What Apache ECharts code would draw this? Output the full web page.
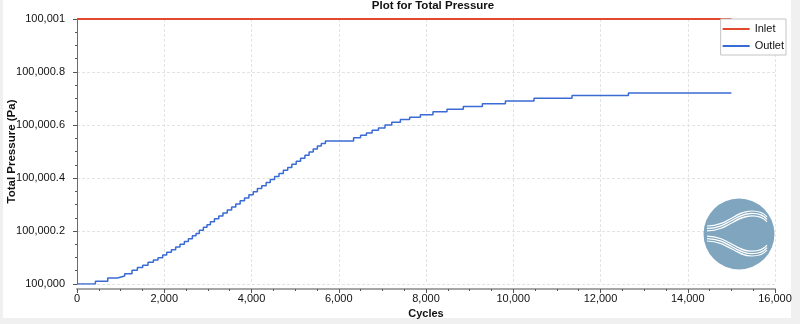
<!DOCTYPE html>
<html>
<head>
<meta charset="utf-8">
<script src="https://cdn.jsdelivr.net/npm/echarts@6/dist/echarts.min.js"></script>
<style>
html,body{margin:0;padding:0;background:#f0f0f0;width:800px;height:324px;overflow:hidden;}
#panel{position:absolute;left:3px;top:0;width:788px;height:318px;background:#ffffff;}
#chart{position:absolute;left:0;top:0;width:800px;height:324px;}
</style>
</head>
<body>
<div id="panel"></div>
<div id="chart"></div>
<script>
const titleText = 'Plot for Total Pressure';
const xName = 'Cycles';
const yName = 'Total Pressure (Pa)';
const seriesNames = ['Inlet', 'Outlet'];

const inletCycles = [0, 15000];
const inletPressure = [100001, 100001];

const outletCycles = [
  0, 422, 704, 926, 1093, 1261, 1384, 1506, 1628, 1751, 1857, 1964, 2056, 2164, 2262, 2361,
  2461, 2553, 2645, 2728, 2805, 2897, 2980, 3058, 3150, 3250, 3345, 3445, 3545, 3640, 3740,
  3840, 3940, 4040, 4135, 4235, 4335, 4430, 4530, 4630, 4730, 4830, 4925, 5025, 5125, 5225,
  5320, 5415, 5510, 5600, 5694, 6340, 6500, 6634, 6765, 6910, 7060, 7215, 7413, 7626, 7871,
  8160, 8481, 8855, 9292, 9820, 10476, 11347, 12639, 15000
];
const outletPressure = [
  100000.000, 100000.010, 100000.023, 100000.030, 100000.039, 100000.052, 100000.062, 100000.071,
  100000.082, 100000.091, 100000.099, 100000.109, 100000.120, 100000.129, 100000.140, 100000.150,
  100000.160, 100000.171, 100000.182, 100000.191, 100000.203, 100000.214, 100000.224, 100000.235,
  100000.246, 100000.257, 100000.268, 100000.279, 100000.291, 100000.302, 100000.314, 100000.325,
  100000.337, 100000.348, 100000.360, 100000.371, 100000.383, 100000.394, 100000.406, 100000.417,
  100000.429, 100000.440, 100000.452, 100000.463, 100000.475, 100000.486, 100000.498, 100000.509,
  100000.521, 100000.530, 100000.540, 100000.552, 100000.561, 100000.570, 100000.580, 100000.589,
  100000.600, 100000.610, 100000.621, 100000.629, 100000.639, 100000.650, 100000.659, 100000.670,
  100000.680, 100000.691, 100000.701, 100000.711, 100000.721, 100000.721
];

function fmt(v) {
  const s = (Math.round(v * 1000) / 1000).toString();
  const parts = s.split('.');
  parts[0] = parts[0].replace(/\B(?=(\d{3})+(?!\d))/g, ',');
  return parts.join('.');
}

function pairs(xs, ys) { return xs.map((x, i) => [x, ys[i]]); }

const FONT = '"Liberation Sans", Arial, sans-serif';

function curve(x1, y1, cx1, cy1, cx2, cy2, x2, y2) {
  return {
    type: 'bezierCurve',
    z: 100,
    shape: { x1: x1, y1: y1, cpx1: cx1, cpy1: cy1, cpx2: cx2, cpy2: cy2, x2: x2, y2: y2 },
    style: { fill: null, stroke: '#ffffff', lineWidth: 1.2 }
  };
}

function logoLines() {
  const els = [];
  for (let k = 0; k < 3; k++) {
    const y0 = 226 + 2.4 * k;
    const yp = y0 - 15;
    els.push(curve(707, y0, 728, y0, 735, yp, 752, yp));
    els.push(curve(752, yp, 760, yp, 764, yp + 2, 767, yp + 6));
    const b0 = 241 - 2.4 * k;
    const bp = b0 + 15;
    els.push(curve(707, b0, 728, b0, 735, bp, 752, bp));
    els.push(curve(752, bp, 760, bp, 764, bp - 2, 767, bp - 6));
  }
  return els;
}

const chart = echarts.init(document.getElementById('chart'), null, { renderer: 'canvas' });
chart.setOption({
  animation: false,
  backgroundColor: 'transparent',
  textStyle: { fontFamily: FONT },
  title: {
    text: titleText,
    left: 433,
    top: 0,
    padding: 0,
    textAlign: 'center',
    textStyle: { fontFamily: FONT, fontSize: 11.5, fontWeight: 'bold', color: '#111' }
  },
  legend: {
    orient: 'vertical',
    right: 14,
    top: 19,
    padding: [3, 2, 2, 2],
    itemGap: 3,
    itemWidth: 27,
    itemHeight: 2,
    icon: 'rect',
    borderColor: '#c4c4c4',
    borderWidth: 1,
    backgroundColor: '#ffffff',
    selectedMode: false,
    textStyle: { fontFamily: FONT, fontSize: 11, color: '#111', lineHeight: 14 },
    data: seriesNames
  },
  grid: { left: 77, right: 25, top: 19, bottom: 40, containLabel: false, outerBoundsMode: 'none' },
  xAxis: {
    type: 'value',
    min: 0,
    max: 16000,
    interval: 2000,
    offset: 5,
    name: xName,
    nameLocation: 'middle',
    nameGap: 19,
    nameMoveOverlap: false,
    nameTextStyle: { fontFamily: FONT, fontSize: 11, fontWeight: 'bold', color: '#111' },
    axisLine: { show: true, lineStyle: { color: '#a6a6a6', width: 2 } },
    axisTick: { show: true, length: 4, lineStyle: { color: '#555' } },
    minorTick: { show: true, splitNumber: 4, length: 2, lineStyle: { color: '#555' } },
    axisLabel: { fontFamily: FONT, fontSize: 11, color: '#111', margin: 4, formatter: fmt },
    splitLine: { show: true, lineStyle: { color: '#e3e3e3', type: [3, 2], width: 1 } },
    minorSplitLine: { show: false }
  },
  yAxis: {
    type: 'value',
    min: 100000,
    max: 100001,
    interval: 0.2,
    offset: 4,
    name: yName,
    nameLocation: 'middle',
    nameGap: 55,
    nameMoveOverlap: false,
    nameTextStyle: { fontFamily: FONT, fontSize: 11.5, fontWeight: 'bold', color: '#111' },
    axisLine: { show: true, lineStyle: { color: '#6a6a6a', width: 1 } },
    axisTick: { show: true, length: 4, lineStyle: { color: '#555' } },
    minorTick: { show: true, splitNumber: 4, length: 2, lineStyle: { color: '#555' } },
    axisLabel: { fontFamily: FONT, fontSize: 11, color: '#111', margin: 8, formatter: fmt },
    splitLine: { show: true, lineStyle: { color: '#e3e3e3', type: [3, 2], width: 1 } },
    minorSplitLine: { show: false }
  },
  series: [
    {
      name: seriesNames[0],
      type: 'line',
      symbol: 'none',
      data: pairs(inletCycles, inletPressure),
      lineStyle: { color: '#e2482b', width: 2 },
      itemStyle: { color: '#e2482b' },
      z: 3
    },
    {
      name: seriesNames[1],
      type: 'line',
      step: 'end',
      symbol: 'none',
      data: pairs(outletCycles, outletPressure),
      lineStyle: { color: '#3a6bd4', width: 1.5 },
      itemStyle: { color: '#3a6bd4' },
      z: 3
    }
  ],
  graphic: [
    {
      type: 'group',
      z: 100,
      children: [{ type: 'circle', z: 99, shape: { cx: 739, cy: 234, r: 35.5 }, style: { fill: '#80a6bf' } }].concat(logoLines())
    }
  ]
});
</script>
</body>
</html>
